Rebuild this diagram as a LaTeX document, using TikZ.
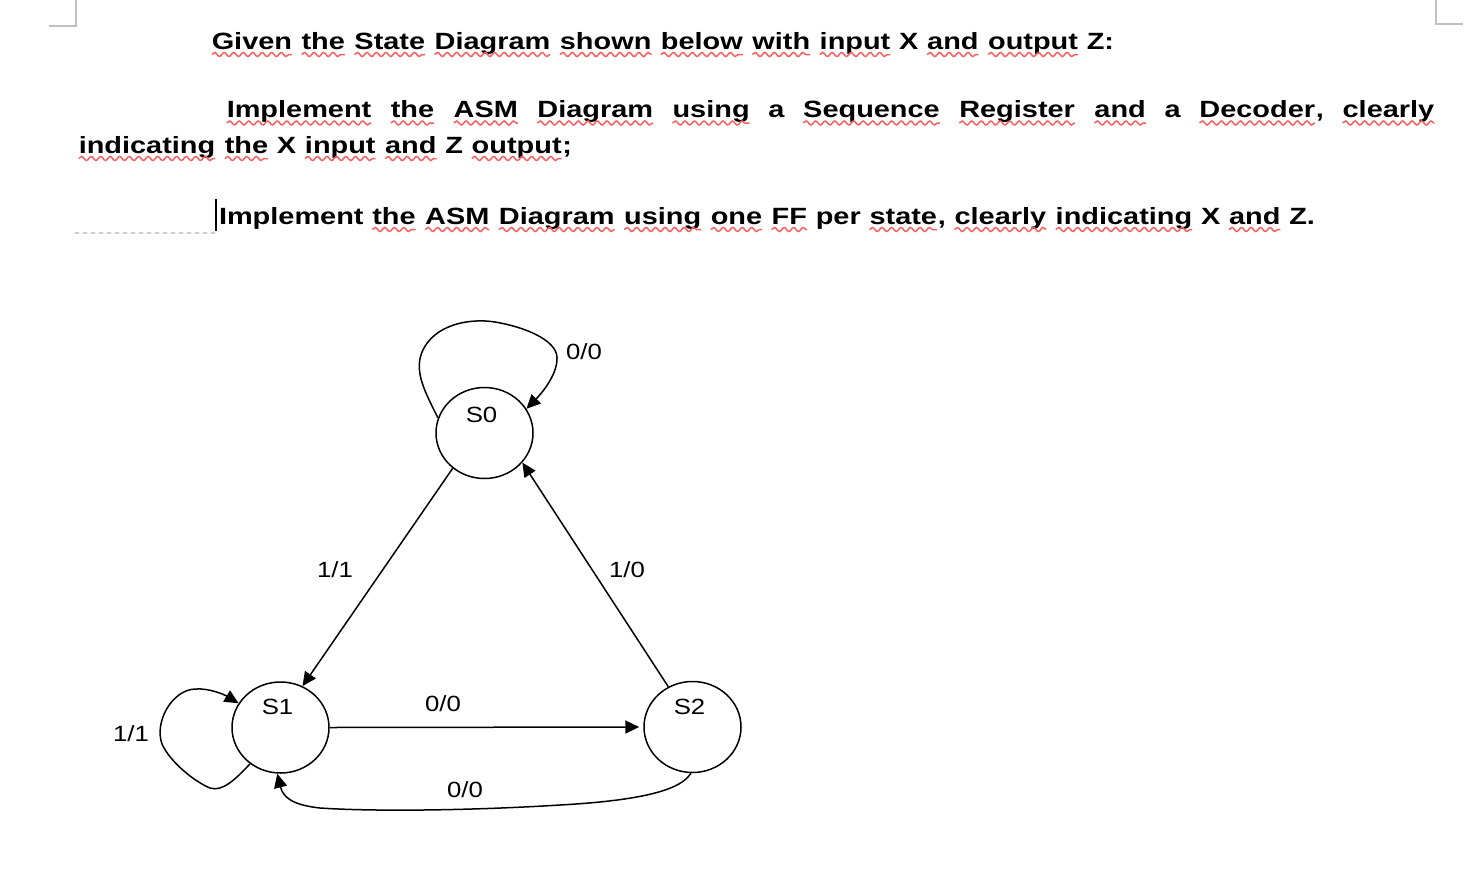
\documentclass[tikz,border=0pt]{standalone}
\usepackage{fontspec}
\setmainfont{Liberation Sans}
\newfontfamily\ttlfont[FakeStretch=1.23]{Liberation Sans}
\newfontfamily\lblfont[FakeStretch=1.17]{Liberation Sans}
\usetikzlibrary{arrows.meta,decorations.pathmorphing,shapes.geometric}
\definecolor{wavered}{RGB}{250,95,95}
\definecolor{marggray}{RGB}{192,192,192}
\definecolor{dashgray}{RGB}{215,200,200}
\tikzset{
  wavy/.style={draw=wavered, line width=1.5pt, decorate, decoration={snake, amplitude=2pt, segment length=9.5pt}},
  ttl/.style={anchor=base west, inner sep=0pt, outer sep=0pt, font=\ttlfont\fontsize{23.5}{30}\selectfont\bfseries},
  st/.style={draw, ellipse, line width=1.5pt, minimum width=97pt, minimum height=91pt, inner sep=0pt},
  lbl/.style={inner sep=0pt, font=\lblfont\fontsize{22}{26}\selectfont},
  edge/.style={draw, line width=1.5pt, -{Triangle[length=14pt,width=13pt]}},
  marg/.style={draw=marggray, line width=1.6pt}
}
\newcommand\sq[1]{\tikz[baseline=(w.base)]{\node[inner sep=0pt,outer sep=0pt,anchor=base west](w){#1};\draw[wavy]([yshift=-5.5pt]w.base west)--([yshift=-5.5pt]w.base east);}}
\begin{document}
\begin{tikzpicture}[x=1pt,y=-1pt]
\useasboundingbox (0,0) rectangle (1471,886);
% page margin marks
\coordinate (tla) at (76,0); \coordinate (tlb) at (76,26); \coordinate (tlc) at (49,26);
\draw[marg] (tla) -- (tlb) -- (tlc);
\coordinate (tra) at (1436,0); \coordinate (trb) at (1436,24); \coordinate (trc) at (1463,24);
\draw[marg] (tra) -- (trb) -- (trc);
% text
\node[ttl] (l1) at (211,49) {\sq{Given} \sq{the} \sq{State} \sq{Diagram} \sq{shown} \sq{below} \sq{with} \sq{input} X \sq{and} \sq{output} Z:};
\node[ttl] (l2) at (226,117.5) {\hbox to 1209pt{\sq{Implement}\hfill\sq{the}\hfill\sq{ASM}\hfill\sq{Diagram}\hfill\sq{using}\hfill a\hfill\sq{Sequence}\hfill\sq{Register}\hfill\sq{and}\hfill a\hfill\sq{Decoder},\hfill\sq{clearly}}};
\node[ttl] (l3) at (78,153) {\sq{indicating} \sq{the} X \sq{input} \sq{and} Z \sq{output};};
\node[ttl] (l4) at (219,224) {Implement \sq{the} \sq{ASM} \sq{Diagram} \sq{using} \sq{one} \sq{FF} per \sq{state}, \sq{clearly} \sq{indicating} X \sq{and} Z.};
\coordinate (da) at (75,233); \coordinate (db) at (215,233);
\draw[draw=dashgray, line width=1.2pt, dash pattern=on 4pt off 4pt] (da) -- (db);
\coordinate (ca) at (216,199); \coordinate (cb) at (216,231);
\draw[line width=1.8pt] (ca) -- (cb);
% states
\node[st] (s0) at (484.5,433) {};
\node[st] (s1) at (280.5,727.5) {};
\node[st] (s2) at (692.5,727) {};
\node[lbl] (t0) at (481.5,414.5) {S0};
\node[lbl] (t1) at (277.5,706.5) {S1};
\node[lbl] (t2) at (689.5,706.5) {S2};
% edges
\draw[edge] (s0.162) .. controls (425,392) and (414,372) .. (422,352) .. controls (434,324) and (470,318) .. (495,322) .. controls (525,327) and (556,340) .. (557,357) .. controls (558,375) and (540,395) .. (s0.30);
\draw[edge] (s0.228) -- (s1.62);
\draw[edge] (s2.121) -- (s0.-38);
\draw[edge, shorten >=4pt] (s1.east) -- (s2.west);
\draw[edge] (s2.-92) .. controls (682,788) and (650,800) .. (560,805) .. controls (480,810) and (380,812) .. (320,808) .. controls (292,805) and (283,797) .. (s1.-94);
\draw[edge] (s1.-130) .. controls (235,780) and (222,792) .. (210,788) .. controls (195,782) and (170,762) .. (162,744) .. controls (154,722) and (172,690) .. (195,689) .. controls (210,688) and (225,695) .. (s1.150);
% labels
\node[lbl] (e00) at (584,352) {0/0};
\node[lbl] (e01) at (335,570) {1/1};
\node[lbl] (e20) at (627,570) {1/0};
\node[lbl] (e12) at (443,704) {0/0};
\node[lbl] (e21) at (465,790) {0/0};
\node[lbl] (e11) at (131,734) {1/1};
\end{tikzpicture}
\end{document}
